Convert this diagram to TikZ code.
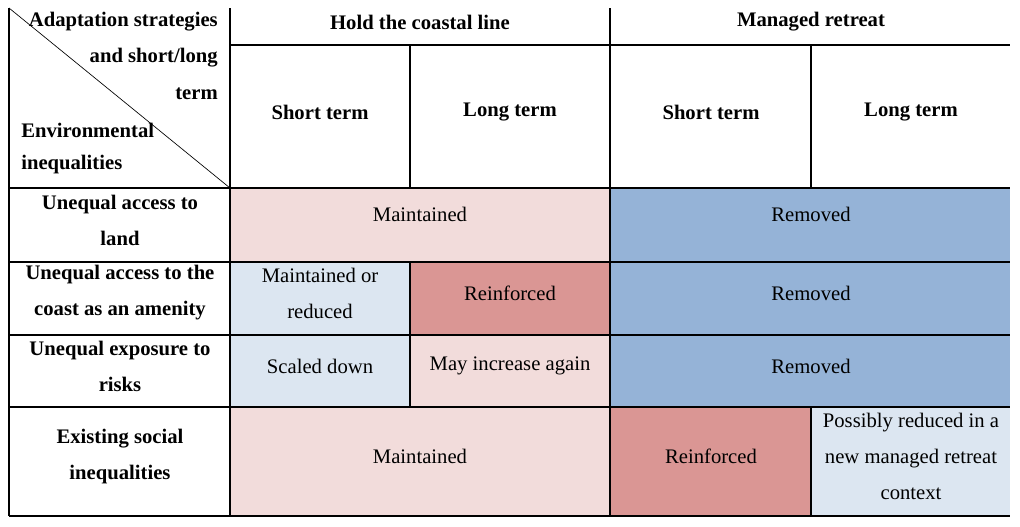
\documentclass[tikz,border=0pt]{standalone}
\usepackage{fontspec}
\setmainfont{Liberation Serif}
\definecolor{lpink}{HTML}{F2DCDB}
\definecolor{dblue}{HTML}{95B3D7}
\definecolor{dred}{HTML}{DA9694}
\definecolor{lblue}{HTML}{DCE6F1}
\begin{document}
\begin{tikzpicture}[x=0.75pt,y=-0.75pt,
  txt/.style={align=center,font=\fontsize{15.5}{27}\selectfont,inner sep=0pt},
  hd/.style={txt,font=\fontsize{15.5}{27}\selectfont\bfseries},
  grid/.style={line width=0.8pt}]
\useasboundingbox (0,0) rectangle (1020,526);
% fills
\fill[lpink] (230,188) rectangle (610,262);
\fill[dblue] (610,188) rectangle (1010,407);
\fill[lblue] (230,262) rectangle (410,407);
\fill[dred] (410,262) rectangle (610,335);
\fill[lpink] (410,335) rectangle (610,407);
\fill[lpink] (230,407) rectangle (610,516);
\fill[dred] (610,407) rectangle (811,516);
\fill[lblue] (811,407) rectangle (1010,516);
% lines
\draw[grid] (9,8) -- (9,516);
\draw[grid] (230,8) -- (230,516);
\draw[grid] (610,8) -- (610,516);
\draw[grid] (410,45) -- (410,188);
\draw[grid] (811,45) -- (811,188);
\draw[grid] (410,262) -- (410,407);
\draw[grid] (811,407) -- (811,516);
\draw[grid] (230,45) -- (1010,45);
\foreach \y in {188,262,335,407,516} \draw[grid] (9,\y) -- (1010,\y);
\draw[line width=0.5pt] (9,8) -- (230,188);
% corner texts
\node[hd,anchor=east] (c1) at (218,22) {Adaptation strategies};
\node[hd,anchor=east] (c2) at (218,58) {and short/long};
\node[hd,anchor=east] (c3) at (218,94) {term};
\node[hd,anchor=west] (c4) at (21,130) {Environmental};
\node[hd,anchor=west] (c5) at (21,165) {inequalities};
% headers
\node[hd] (h1) at (420,22) {Hold the coastal line};
\node[hd] (h2) at (811,22) {Managed retreat};
\node[hd] (s1) at (320,112) {Short term};
\node[hd] (l1) at (510,112) {Long term};
\node[hd] (s2) at (711,112) {Short term};
\node[hd] (l2) at (911,112) {Long term};
% row labels
\node[hd] (r1) at (120,220) {Unequal access to\\land};
\node[hd] (r2) at (120,293) {Unequal access to the\\coast as an amenity};
\node[hd] (r3) at (120,366) {Unequal exposure to\\risks};
\node[hd] (r4) at (120,457) {Existing social\\inequalities};
% cells
\node[txt] (a1) at (420,214) {Maintained};
\node[txt] (b1) at (811,214) {Removed};
\node[txt] (a2) at (320,293) {Maintained or\\reduced};
\node[txt] (a3) at (510,293) {Reinforced};
\node[txt] (b2) at (811,293) {Removed};
\node[txt] (a4) at (320,366) {Scaled down};
\node[txt] (a5) at (510,366) {May increase again};
\node[txt] (b3) at (811,366) {Removed};
\node[txt] (a6) at (420,456) {Maintained};
\node[txt] (b4) at (711,456) {Reinforced};
\node[txt] (b5) at (911,456) {Possibly reduced in a\\new managed retreat\\context};
\end{tikzpicture}
\end{document}
